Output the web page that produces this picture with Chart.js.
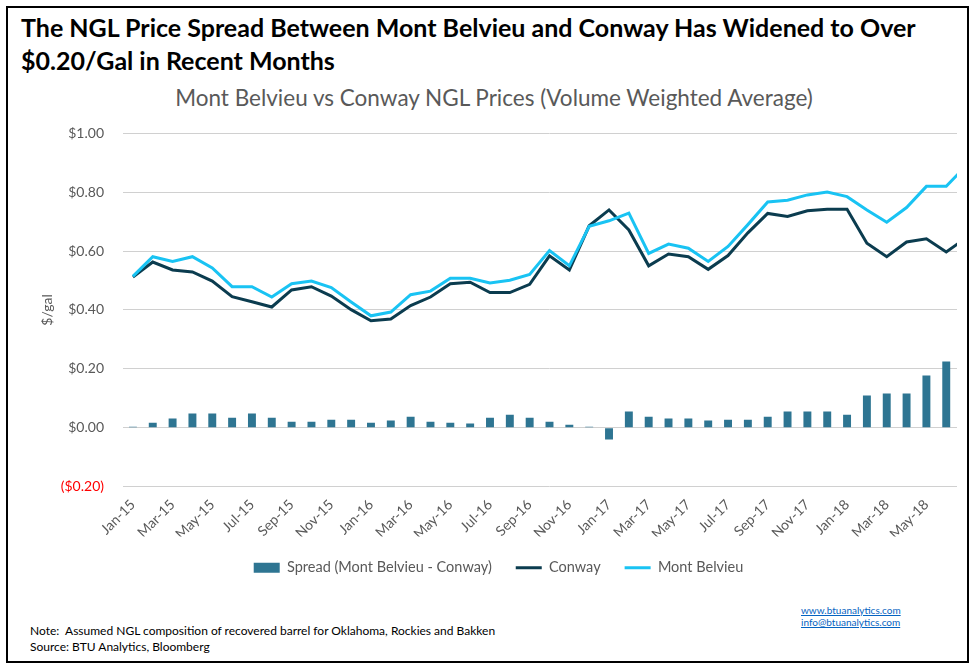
<!DOCTYPE html>
<html>
<head>
<meta charset="utf-8">
<script src="https://cdn.jsdelivr.net/npm/chart.js@4.4.0/dist/chart.umd.min.js"></script>
<style>
    body { margin: 0; background: #fff; font-family: Lato, sans-serif; }
    #frame { position: absolute; left: 6px; top: 6px; width: 959px; height: 653px; border: 2px solid #000; }
    #heading { position: absolute; left: 21px; top: 11px; font-size: 25px; line-height: 33px; font-weight: bold; color: #000; }
    #subtitle { position: absolute; left: 0; top: 85px; width: 988px; text-align: center; font-size: 22.5px; line-height: 26px; color: #595959; }
    #chartBox { position: absolute; left: 0; top: 106px; width: 957px; height: 479px; overflow: hidden; }
    #links { position: absolute; left: 801px; top: 604px; font-size: 10px; line-height: 12px; }
    #links a { color: #0563c1; }
    #notes { position: absolute; left: 30px; top: 623px; font-size: 12px; line-height: 16px; color: #000; }
</style>
</head>
<body>
<div id="frame"></div>
<div id="heading">The NGL Price Spread Between Mont Belvieu and Conway Has Widened to Over<br>$0.20/Gal in Recent Months</div>
<div id="subtitle">Mont Belvieu vs Conway NGL Prices (Volume Weighted Average)</div>
<div id="chartBox"><canvas id="nglChart" width="980" height="479"></canvas></div>
<div id="links"><a href="#">www.btuanalytics.com</a><br><a href="#">info@btuanalytics.com</a></div>
<div id="notes">Note:&nbsp; Assumed NGL composition of recovered barrel for Oklahoma, Rockies and Bakken<br>Source: BTU Analytics, Bloomberg</div>

<script>
// the last month (Jul-18) is cut off at the right edge of the plot in the original
const months = [
    'Jan-15', 'Feb-15', 'Mar-15', 'Apr-15', 'May-15', 'Jun-15', 'Jul-15', 'Aug-15', 'Sep-15', 'Oct-15', 'Nov-15', 'Dec-15',
    'Jan-16', 'Feb-16', 'Mar-16', 'Apr-16', 'May-16', 'Jun-16', 'Jul-16', 'Aug-16', 'Sep-16', 'Oct-16', 'Nov-16', 'Dec-16',
    'Jan-17', 'Feb-17', 'Mar-17', 'Apr-17', 'May-17', 'Jun-17', 'Jul-17', 'Aug-17', 'Sep-17', 'Oct-17', 'Nov-17', 'Dec-17',
    'Jan-18', 'Feb-18', 'Mar-18', 'Apr-18', 'May-18', 'Jun-18', 'Jul-18',
];

// $/gal
const conway = [
    0.512, 0.563, 0.536, 0.529, 0.498, 0.445, 0.428, 0.410, 0.468, 0.479, 0.447, 0.401,
    0.363, 0.369, 0.415, 0.444, 0.489, 0.494, 0.459, 0.459, 0.487, 0.584, 0.536, 0.686,
    0.740, 0.672, 0.550, 0.590, 0.581, 0.538, 0.585, 0.662, 0.728, 0.718, 0.737, 0.742,
    0.742, 0.627, 0.581, 0.631, 0.642, 0.597, 0.645,
];

const montBelvieu = [
    0.514, 0.581, 0.565, 0.581, 0.543, 0.479, 0.479, 0.444, 0.489, 0.498, 0.476, 0.427,
    0.380, 0.393, 0.452, 0.464, 0.508, 0.508, 0.492, 0.501, 0.521, 0.602, 0.550, 0.684,
    0.703, 0.729, 0.592, 0.624, 0.610, 0.565, 0.616, 0.690, 0.767, 0.773, 0.791, 0.801,
    0.785, 0.740, 0.698, 0.748, 0.820, 0.820, 0.890,
];

const spread = [
    0.003, 0.017, 0.031, 0.048, 0.048, 0.034, 0.048, 0.034, 0.020, 0.020, 0.027, 0.027,
    0.017, 0.024, 0.037, 0.020, 0.017, 0.014, 0.034, 0.044, 0.034, 0.020, 0.010, 0.003,
    -0.040, 0.055, 0.037, 0.031, 0.031, 0.024, 0.027, 0.027, 0.037, 0.055, 0.055, 0.055,
    0.044, 0.109, 0.116, 0.116, 0.177, 0.225, 0.245,
];

const yTicks = [-0.2, 0, 0.2, 0.4, 0.6, 0.8, 1.0];

function money(v) {
    if (v < -0.001) {
        return '($' + Math.abs(v).toFixed(2) + ')';
    }
    return '$' + Math.abs(v).toFixed(2);
}

function drawNglChart() {
    const ctx = document.getElementById('nglChart').getContext('2d');
    const grey = '#595959';

    new Chart(ctx, {
        type: 'bar',
        data: {
            labels: months,
            datasets: [
                {
                    type: 'bar',
                    label: 'Spread (Mont Belvieu - Conway)',
                    data: spread,
                    backgroundColor: '#2e7592',
                    barPercentage: 0.4,
                    categoryPercentage: 1,
                    order: 3,
                },
                {
                    type: 'line',
                    label: 'Conway',
                    data: conway,
                    borderColor: '#0b3c4f',
                    backgroundColor: '#0b3c4f',
                    borderWidth: 3,
                    pointRadius: 0,
                    tension: 0,
                    order: 2,
                },
                {
                    type: 'line',
                    label: 'Mont Belvieu',
                    data: montBelvieu,
                    borderColor: '#19c3f3',
                    backgroundColor: '#19c3f3',
                    borderWidth: 3,
                    pointRadius: 0,
                    tension: 0,
                    order: 1,
                },
            ],
        },
        options: {
            responsive: false,
            animation: false,
            layout: {
                padding: { top: 13, left: 20, right: 3, bottom: 0 },
            },
            plugins: {
                tooltip: { enabled: false },
                legend: {
                    position: 'bottom',
                    labels: {
                        usePointStyle: true,
                        pointStyleWidth: 26,
                        boxHeight: 10,
                        padding: 24,
                        color: grey,
                        font: { family: 'Lato', size: 14.5 },
                        sort: (a, b) => a.datasetIndex - b.datasetIndex,
                        generateLabels(chart) {
                            const items = Chart.defaults.plugins.legend.labels.generateLabels(chart);
                            items.forEach(item => {
                                item.pointStyle = item.datasetIndex === 0 ? 'rect' : 'line';
                            });
                            return items;
                        },
                    },
                },
            },
            scales: {
                x: {
                    grid: { display: false },
                    border: { display: false },
                    afterFit(scale) {
                        scale.height = 50;
                    },
                    ticks: {
                        autoSkip: false,
                        maxRotation: 45,
                        minRotation: 45,
                        padding: 2,
                        color: grey,
                        font: { family: 'Lato', size: 14 },
                        callback(value, index) {
                            return index % 2 === 0 && index < 41 ? months[index] : '';
                        },
                    },
                },
                y: {
                    min: yTicks[0],
                    max: yTicks[yTicks.length - 1],
                    afterFit(scale) {
                        scale.width = 103;
                    },
                    afterBuildTicks(scale) {
                        scale.ticks = yTicks.map(v => ({ value: v }));
                    },
                    border: { display: false },
                    grid: {
                        color: '#d0d0d0',
                        drawTicks: false,
                    },
                    ticks: {
                        padding: 19,
                        color: c => (c.tick.value < -0.001 ? '#ff0000' : grey),
                        font: { family: 'Lato', size: 14 },
                        callback: v => money(v),
                    },
                    title: {
                        display: true,
                        text: '$/gal',
                        color: grey,
                        padding: { top: 19, bottom: 4 },
                        font: { family: 'Lato', size: 14 },
                    },
                },
            },
        },
    });
}

drawNglChart();
</script>
</body>
</html>
